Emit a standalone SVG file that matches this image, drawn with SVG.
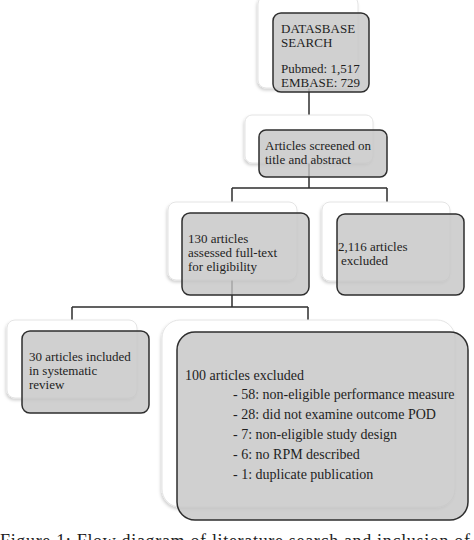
<svg xmlns="http://www.w3.org/2000/svg" width="474" height="540" viewBox="0 0 474 540">
<defs>
<filter id="sh" x="-10%" y="-10%" width="120%" height="130%">
<feDropShadow dx="-1" dy="2" stdDeviation="1.5" flood-color="#000" flood-opacity="0.18"/>
</filter>
<style>
.bg{fill:#ffffff;stroke:#e4e4e4;stroke-width:1;filter:url(#sh)}
.fg{fill:#c4c4c4;fill-opacity:0.8;stroke:#2e2e2e;stroke-width:1.5}
.t{font-family:"Liberation Serif","DejaVu Serif",serif;font-size:13px;fill:#1e1e1e}
.w{font-size:14px}
.c{fill:none;stroke:#2e2e2e;stroke-width:1.5}
.cap{font-family:"Liberation Serif",serif;font-size:18px;fill:#1e1e1e}
</style>
</defs>
<rect width="474" height="540" fill="#ffffff"/>
<g id="connectors">
<path class="c" d="M309 86V116"/>
<path class="c" d="M309 160V188M232 188H387M232 188V203M387 188V203"/>
<path class="c" d="M232 278V307M72 307H308M72 307V321M308 307V321"/>
</g>
<g id="n1">
<rect class="bg" x="258" y="-4" width="100" height="92" rx="8"/>
<rect class="fg" x="273" y="13" width="96" height="79" rx="8"/>
<text class="t" x="281" y="33">DATASBASE<tspan x="281" dy="14">SEARCH</tspan></text>
<text class="t" x="281" y="73">Pubmed: 1,517<tspan x="281" dy="14">EMBASE: 729</tspan></text>
</g>
<g id="n2">
<rect class="bg" x="245" y="115" width="128" height="48" rx="7"/>
<rect class="fg" x="259" y="130" width="128" height="47" rx="7"/>
<text class="t" x="265" y="150">Articles screened on<tspan x="265" dy="14">title and abstract</tspan></text>
</g>
<g id="n3">
<rect class="bg" x="168" y="202" width="129" height="78" rx="8"/>
<rect class="fg" x="182" y="213" width="127" height="82" rx="8"/>
<text class="t" x="188" y="243">130 articles<tspan x="188" dy="14">assessed full-text</tspan><tspan x="188" dy="14">for eligibility</tspan></text>
</g>
<g id="n4">
<rect class="bg" x="322" y="202" width="128" height="79" rx="8"/>
<rect class="fg" x="337" y="214" width="127" height="81" rx="8"/>
<text class="t" x="338" y="251">2,116 articles<tspan x="341" dy="14">excluded</tspan></text>
</g>
<g id="n5">
<rect class="bg" x="7" y="320" width="130" height="78" rx="8"/>
<rect class="fg" x="22" y="331" width="127" height="82" rx="8"/>
<text class="t" x="29" y="361">30 articles included<tspan x="29" dy="14">in systematic</tspan><tspan x="29" dy="14">review</tspan></text>
</g>
<g id="n6">
<rect class="bg" x="162" y="320" width="293" height="187" rx="18"/>
<rect class="fg" x="177" y="332" width="291" height="188" rx="18"/>
<text class="t w" x="185" y="380">100 articles excluded</text>
<text class="t w" x="233" y="399">- 58: non-eligible performance measure</text>
<text class="t w" x="233" y="419">- 28: did not examine outcome POD</text>
<text class="t w" x="233" y="439">- 7: non-eligible study design</text>
<text class="t w" x="233" y="459">- 6: no RPM described</text>
<text class="t w" x="233" y="479">- 1: duplicate publication</text>
</g>
<text class="cap" x="0" y="547" textLength="470" lengthAdjust="spacing">Figure 1: Flow diagram of literature search and inclusion of</text>
</svg>
